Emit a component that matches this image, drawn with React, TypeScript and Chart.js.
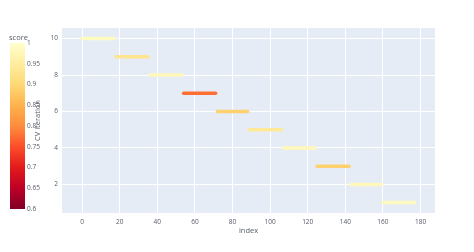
import React, { useEffect, useRef } from 'react';
import { Chart, registerables } from 'chart.js';

Chart.register(...registerables);

// ---- data ----
const folds = [10, 9, 8, 7, 6, 5, 4, 3, 2, 1];
const foldStart = [0, 18, 36, 54, 72, 89, 107, 125, 143, 160];
const foldEnd = [17, 35, 53, 71, 88, 106, 124, 142, 159, 177];
const scores = [0.985, 0.93, 0.98, 0.775, 0.89, 0.94, 0.98, 0.89, 0.98, 0.985];
const xTicks = [0, 20, 40, 60, 80, 100, 120, 140, 160, 180];
const yTicks = [2, 4, 6, 8, 10];
const cbTicks = [0.6, 0.65, 0.7, 0.75, 0.8, 0.85, 0.9, 0.95, 1];
const cbTickLabels = ['0.6', '0.65', '0.7', '0.75', '0.8', '0.85', '0.9', '0.95', '1'];
const cMin = 0.6;
const cMax = 1;

const palette = ['#800026', '#bd0026', '#e31a1c', '#fc4e2a', '#fd8d3c', '#feb24c', '#fed976', '#ffeda0', '#ffffcc'];

function hexToRgb(h: string) {
  const n = parseInt(h.slice(1), 16);
  return [(n >> 16) & 255, (n >> 8) & 255, n & 255];
}

function colorFor(v: number) {
  let t = (v - cMin) / (cMax - cMin);
  t = Math.max(0, Math.min(1, t));
  const pos = t * (palette.length - 1);
  const i = Math.min(palette.length - 2, Math.floor(pos));
  const f = pos - i;
  const a = hexToRgb(palette[i]);
  const b = hexToRgb(palette[i + 1]);
  const c = a.map((x, k) => Math.round(x + (b[k] - x) * f));
  return `rgb(${c[0]},${c[1]},${c[2]})`;
}

const FONT = '"Open Sans", "DejaVu Sans", sans-serif';
const TEXT = '#555b66';

const decorPlugin = {
  id: 'decor',
  beforeDraw(chart: any) {
    const { ctx, chartArea } = chart;
    ctx.save();
    ctx.fillStyle = '#E5ECF6';
    ctx.fillRect(chartArea.left, chartArea.top, chartArea.right - chartArea.left, chartArea.bottom - chartArea.top);
    ctx.restore();
  },
  afterDraw(chart: any) {
    const { ctx, chartArea } = chart;
    ctx.save();
    // colorbar
    const barLeft = 10;
    const barRight = 25;
    const barTop = 43;
    const barBottom = 209;
    const grad = ctx.createLinearGradient(0, barBottom, 0, barTop);
    palette.forEach((c, i) => grad.addColorStop(i / (palette.length - 1), c));
    ctx.fillStyle = grad;
    ctx.fillRect(barLeft, barTop, barRight - barLeft, barBottom - barTop);
    ctx.fillStyle = TEXT;
    ctx.font = `6.5px ${FONT}`;
    ctx.textAlign = 'left';
    ctx.textBaseline = 'middle';
    cbTicks.forEach((v, i) => {
      const y = barBottom - ((v - cMin) / (cMax - cMin)) * (barBottom - barTop);
      ctx.fillText(cbTickLabels[i], 27, y);
    });
    ctx.font = `7.5px ${FONT}`;
    ctx.textBaseline = 'alphabetic';
    ctx.fillText('score', 9, 40);
    // axis titles
    ctx.textAlign = 'center';
    ctx.textBaseline = 'middle';
    ctx.fillText('index', (chartArea.left + chartArea.right) / 2, 231);
    ctx.translate(38, (chartArea.top + chartArea.bottom) / 2);
    ctx.rotate(-Math.PI / 2);
    ctx.fillText('CV iteration', 0, 0);
    ctx.restore();
  },
};

export default function App() {
  const ref = useRef<HTMLCanvasElement>(null);
  useEffect(() => {
    if (!ref.current) return;
    const datasets = folds.map((f, i) => ({
      label: `fold ${f}`,
      data: [
        { x: foldStart[i], y: f },
        { x: foldEnd[i], y: f },
      ],
      showLine: true,
      borderColor: colorFor(scores[i]),
      backgroundColor: colorFor(scores[i]),
      borderWidth: 3.5,
      borderCapStyle: 'round' as const,
      pointRadius: 0,
    }));
    const chart = new Chart(ref.current, {
      type: 'scatter',
      data: { datasets },
      options: {
        animation: false,
        responsive: false,
        maintainAspectRatio: false,
        layout: { padding: { top: 28, right: 39, left: 0, bottom: 0 } },
        plugins: { legend: { display: false }, tooltip: { enabled: false } },
        scales: {
          x: {
            type: 'linear',
            min: -10.7,
            max: 187.7,
            afterFit: (s: any) => { s.height = 39; },
            afterBuildTicks: (s: any) => { s.ticks = xTicks.map((v) => ({ value: v })); },
            grid: { color: '#ffffff', lineWidth: 1, drawTicks: false },
            border: { display: false },
            ticks: { color: TEXT, font: { size: 6.5, family: FONT }, padding: 5, maxRotation: 0 },
          },
          y: {
            type: 'linear',
            min: 0.43,
            max: 10.58,
            afterFit: (s: any) => { s.width = 62; },
            afterBuildTicks: (s: any) => { s.ticks = yTicks.map((v) => ({ value: v })); },
            grid: { color: '#ffffff', lineWidth: 1, drawTicks: false },
            border: { display: false },
            ticks: { color: TEXT, font: { size: 6.5, family: FONT }, padding: 4 },
          },
        },
      },
      plugins: [decorPlugin],
    });
    return () => chart.destroy();
  }, []);
  return (
    <div style={{ position: 'fixed', left: 0, top: 0, width: 474, height: 252, background: '#fff' }}>
      <canvas ref={ref} width={474} height={252} style={{ width: 474, height: 252, display: 'block' }} />
    </div>
  );
}
